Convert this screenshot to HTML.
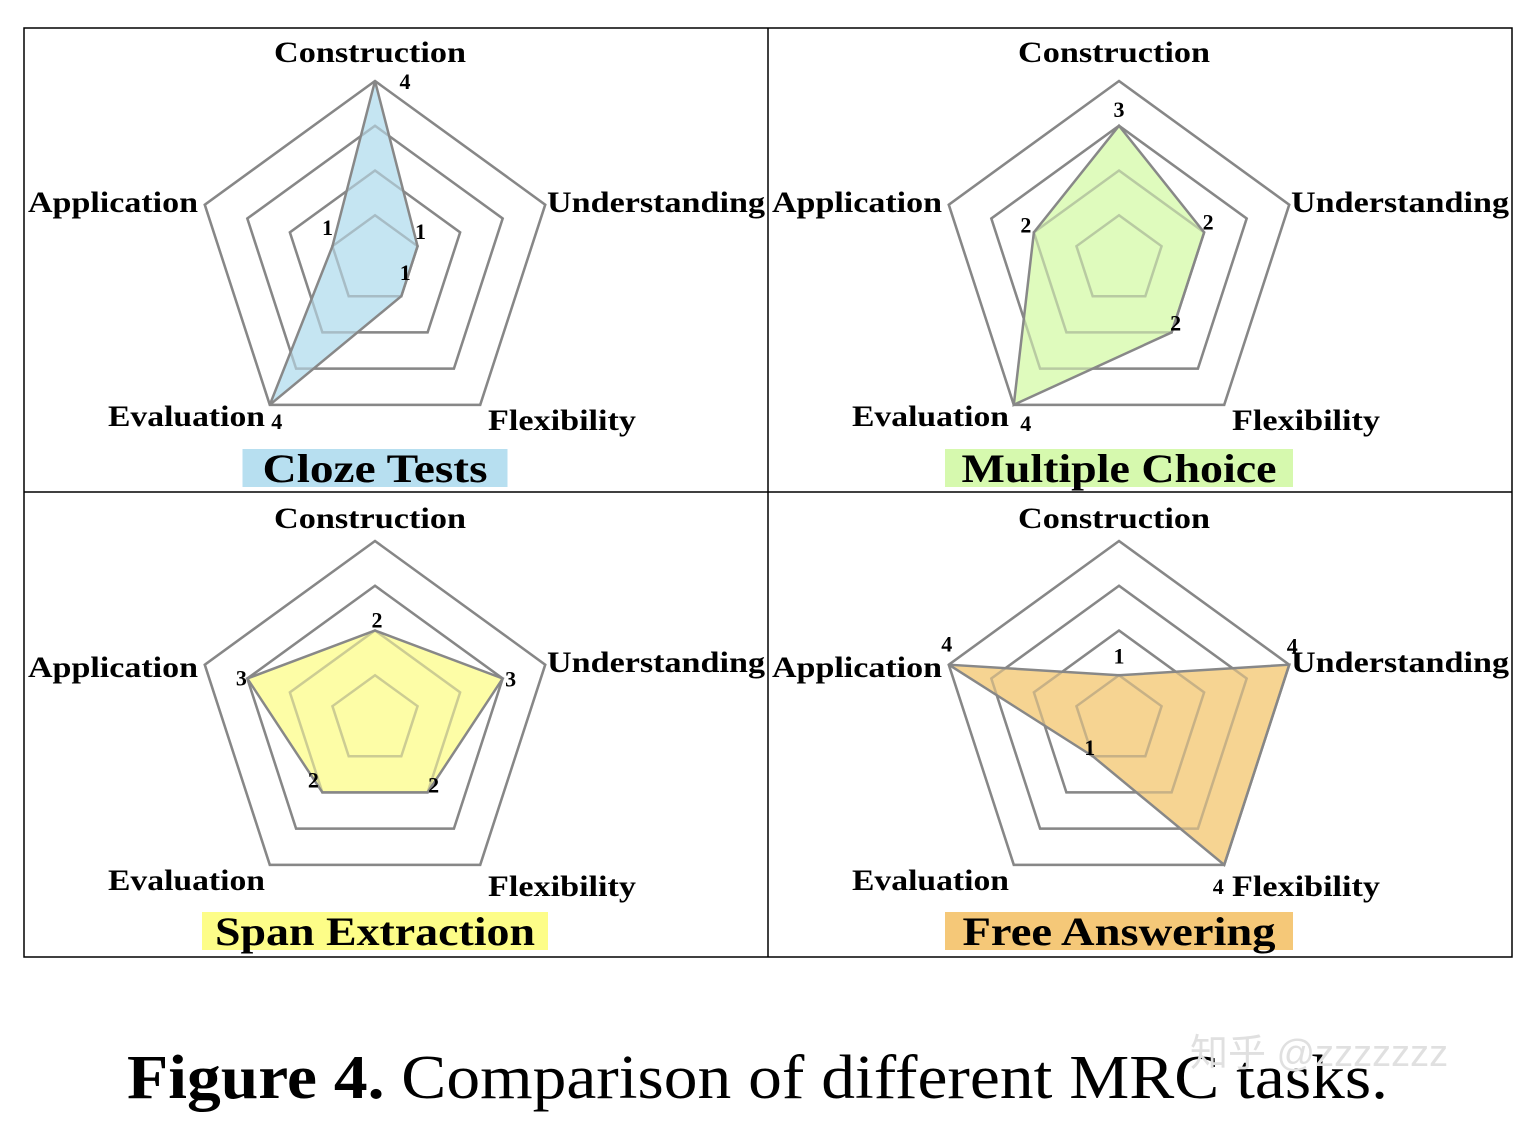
<!DOCTYPE html>
<html><head><meta charset="utf-8">
<style>
body{margin:0;background:#fff;}
svg text{font-family:"Liberation Serif",serif;font-weight:bold;fill:#000;}
</style></head>
<body>
<svg id="fig" width="1530" height="1116" viewBox="0 0 1530 1116" xmlns="http://www.w3.org/2000/svg">
<rect x="24" y="28" width="1488" height="929" fill="none" stroke="#000" stroke-width="1.5"/>
<line x1="768" y1="28" x2="768" y2="957" stroke="#000" stroke-width="1.5"/>
<line x1="24" y1="492" x2="1512" y2="492" stroke="#000" stroke-width="1.5"/>
<text x="127" y="1098" font-size="62" textLength="1261" lengthAdjust="spacingAndGlyphs" style="font-weight:bold">Figure 4.<tspan style="font-weight:normal"> Comparison of different MRC tasks.</tspan></text>
<text x="1190" y="1066" font-size="38" style="font-weight:normal;fill:#e0e0e0;font-family:'Liberation Sans','Noto Sans CJK SC',sans-serif">知乎 @zzzzzzz</text>
</svg>
<script>
const axes = ["Construction","Understanding","Flexibility","Evaluation","Application"];
const titles = ["Cloze Tests","Multiple Choice","Span Extraction","Free Answering"];
const clozeValues = [4,1,1,4,1];
const mcValues = [3,2,2,4,2];
const spanValues = [2,3,2,2,3];
const freeValues = [1,4,4,1,4];
const maxValue = 4;
const series = [clozeValues, mcValues, spanValues, freeValues];
const fills = ["#bfe2f1","#dcfbb6","#fdfd9c","#f5cf86"];
const titleBg = ["#b7dff0","#d6f9ae","#fdfd88","#f5c878"];
const centers = [[375,260],[1119,260],[375,720],[1119,720]];
const R = 179;
const NS = "http://www.w3.org/2000/svg";
const svg = document.getElementById('fig');
function ang(i){return -Math.PI/2 + i*2*Math.PI/5;}
function pt(c,i,v){const r=R*v/maxValue;return [c[0]+r*Math.cos(ang(i)), c[1]+r*Math.sin(ang(i))];}
function mk(tag,attrs){const e=document.createElementNS(NS,tag);for(const k in attrs)e.setAttribute(k,attrs[k]);svg.appendChild(e);return e;}
// label layout: [anchor, x offset from center, baseline offset top row, baseline offset bottom row, width]
const axisLayout = [["middle",-5,-198,-192,192],["start",172,-48,-48,218],["start",113,170,176,148],["end",-110,166,170,157],["end",-177,-48,-43,170]];
const valueOffsets = [
 [[30,1],[3,-14],[4,-23],[7,17],[-5,-18]],
 [[0,-16],[4,-10],[4,-9],[12,19],[-8,-7]],
 [[2,-10],[8,1],[6,-7],[-9,-12],[-6,0]],
 [[0,-19],[3,-18],[-6,22],[-3,-8],[-2,-20]]
];
const titleWidths = [225,315,320,313];
const bgWidths = [265,348,346,348];
series.forEach((vals,p)=>{
  const c=centers[p];
  for(let lv=1;lv<=maxValue;lv++){
    const pts=axes.map((a,i)=>pt(c,i,lv).join(',')).join(' ');
    const ring=mk('polygon',{points:pts,fill:'none',stroke:'#888','stroke-width':2.5});
    
    
  }
  const poly=mk('polygon',{points:vals.map((v,i)=>pt(c,i,v).join(',')).join(' '),fill:fills[p],'fill-opacity':0.9,stroke:'#888','stroke-width':2.5});
  
  
  for(let lv=1;lv<=maxValue;lv++){
    const pts=axes.map((a,i)=>pt(c,i,lv).join(',')).join(' ');
    const ring=mk('polygon',{points:pts,fill:'none',stroke:'#888','stroke-opacity':0.35,'stroke-width':2.5});
    
    
  }
  axes.forEach((a,i)=>{
    const la=axisLayout[i];
    const t=mk('text',{x:c[0]+la[1],y:c[1]+(p<2?la[2]:la[3]),'font-size':30,'text-anchor':la[0],textLength:la[4],lengthAdjust:'spacingAndGlyphs'});
    t.textContent=a;
    
    
    const v=vals[i];const q=pt(c,i,v);const o=valueOffsets[p][i];
    const vt=mk('text',{x:q[0]+o[0],y:q[1]+o[1]+7,'font-size':22,'text-anchor':'middle'});
    vt.textContent=v;
    
    
  });
  const ty=c[1]+(p<2?208:211);
  const tw=bgWidths[p];
  const bg=mk('rect',{x:c[0]-tw/2,y:ty-19,width:tw,height:38,fill:titleBg[p]});
  
  
  const tt=mk('text',{x:c[0],y:ty+14,'font-size':40,'text-anchor':'middle',textLength:titleWidths[p],lengthAdjust:'spacingAndGlyphs'});
  tt.textContent=titles[p];
  
  
});
</script>
</body></html>
